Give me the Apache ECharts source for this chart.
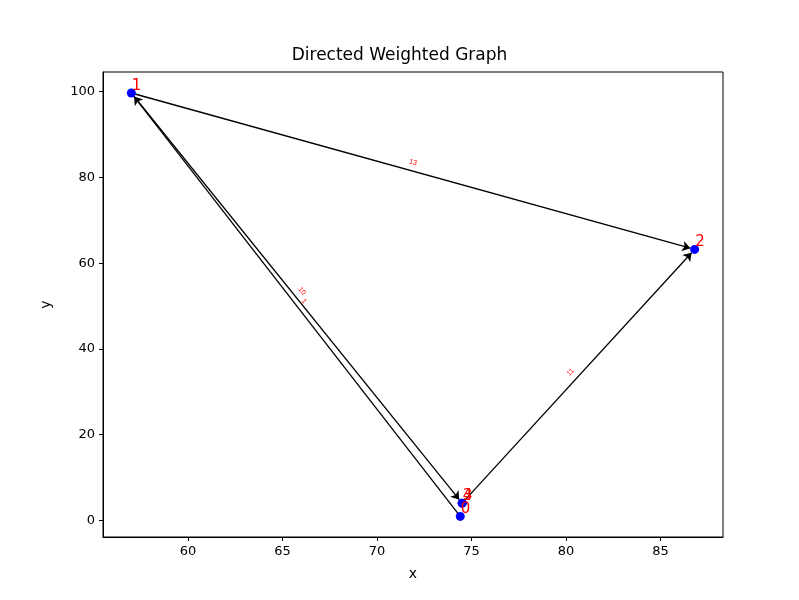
<!DOCTYPE html>
<html>
<head>
<meta charset="utf-8">
<script src="https://cdn.jsdelivr.net/npm/echarts@6/dist/echarts.min.js"></script>
<style>body{margin:0;background:#fff}#chart{width:799px;height:600px}</style>
</head>
<body>
<div id="chart"></div>
<script>
// node data
var nodeNames = ['0', '1', '2', '3', '4'];
var nodeX = [74.4, 57.0, 86.8, 74.5, 74.5];
var nodeY = [0.9, 99.7, 63.2, 4.0, 4.0];
// edges: source, target, weight
var edgeFrom = [1, 3, 1, 0];
var edgeTo = [2, 2, 3, 1];
var edgeWeight = [13, 11, 10, 1];
var xTicks = [60, 65, 70, 75, 80, 85];
var yTicks = [0, 20, 40, 60, 80, 100];

var nodes = nodeNames.map(function (n, i) {
    return { name: n, value: [nodeX[i], nodeY[i]] };
});
var links = edgeFrom.map(function (s, i) {
    return { source: nodeNames[s], target: nodeNames[edgeTo[i]], value: edgeWeight[i],
        label: { show: true, formatter: String(edgeWeight[i]) } };
});

var myChart = echarts.init(document.getElementById('chart'));
myChart.setOption({
    animation: false,
    title: { text: 'Directed Weighted Graph', left: 'center', top: 42,
        textStyle: { fontFamily: 'DejaVu Sans', fontSize: 17, fontWeight: 'normal', color: '#000' } },
    grid: { left: 103, right: 76, top: 72, bottom: 63, show: true, borderColor: '#000', borderWidth: 1 },
    xAxis: {
        type: 'value', min: 55.5, max: 88.3, name: 'x', nameLocation: 'middle', nameGap: 30,
        nameTextStyle: { fontFamily: 'DejaVu Sans', fontSize: 14, color: '#000' },
        axisLine: { onZero: false, lineStyle: { color: '#000' } },
        axisTick: { show: true, length: 4, customValues: xTicks }, splitLine: { show: false },
        axisLabel: { fontFamily: 'DejaVu Sans', fontSize: 13, color: '#000', customValues: xTicks }
    },
    yAxis: {
        type: 'value', min: -3.9, max: 104.6, name: 'y', nameLocation: 'middle', nameGap: 50,
        nameTextStyle: { fontFamily: 'DejaVu Sans', fontSize: 14, color: '#000' },
        axisLine: { show: true, onZero: false, lineStyle: { color: '#000' } },
        axisTick: { show: true, length: 4, customValues: yTicks }, splitLine: { show: false },
        axisLabel: { fontFamily: 'DejaVu Sans', fontSize: 13, color: '#000', customValues: yTicks }
    },
    series: [{
        type: 'graph', coordinateSystem: 'cartesian2d', layout: 'none',
        symbolSize: 9, itemStyle: { color: '#0000ff' },
        label: { show: true, position: [5, -10], color: '#ff0000', fontSize: 15, fontFamily: 'DejaVu Sans' },
        edgeSymbol: ['none', 'arrow'], edgeSymbolSize: 8,
        lineStyle: { color: '#000', width: 1.3, opacity: 1 },
        edgeLabel: { show: true, fontSize: 7, color: '#ff0000' },
        data: nodes, links: links, z: 3
    }]
});
</script>
</body>
</html>
